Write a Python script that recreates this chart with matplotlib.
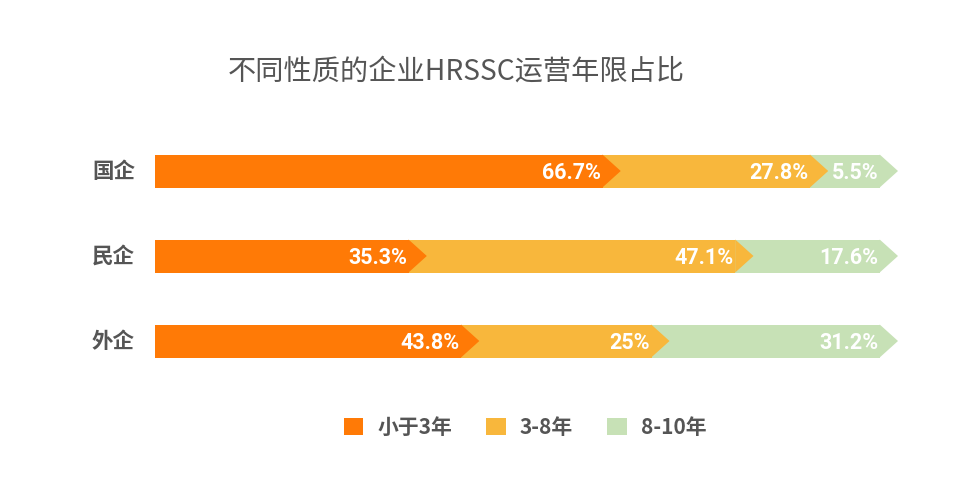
import matplotlib
matplotlib.use("Agg")
import matplotlib.pyplot as plt
from matplotlib.patches import Polygon, Patch

plt.rcParams['font.family'] = ['Noto Sans CJK SC', 'DejaVu Sans']

title = "不同性质的企业HRSSC运营年限占比"
categories = ["国企", "民企", "外企"]
series_names = ["小于3年", "3-8年", "8-10年"]
lt3 = [66.7, 35.3, 43.8]
y3_8 = [27.8, 47.1, 25.0]
y8_10 = [5.5, 17.6, 31.2]
labels = [["66.7%", "35.3%", "43.8%"],
          ["27.8%", "47.1%", "25%"],
          ["5.5%", "17.6%", "31.2%"]]
colors = ["#FF7A06", "#F8B73C", "#C7E1B6"]

W, H = 968, 478
fig = plt.figure(figsize=(W / 100, H / 100), dpi=100)
fig.patch.set_facecolor("white")

# style: each segment gets a constant extra length (room for the arrow)
pad = 5.8
n_seg = 3
total = 100 + n_seg * pad

left_px, right_px = 155, 880
row_top_px = 171 - 42.5
ax = fig.add_axes([left_px / W, 1 - (row_top_px + 255) / H,
                   (right_px - left_px) / W, 255 / H])
ax.set_xlim(0, total)
ax.set_ylim(2.5, -0.5)
ax.axis("off")

px_per_unit = (right_px - left_px) / total
bar_h = 33 / 85
tip = 18 / px_per_unit

series = [lt3, y3_8, y8_10]
ypos = list(range(len(categories)))
lefts = [0.0] * len(categories)
for k, vals in enumerate(series):
    z = 10 - k
    widths = [v + pad for v in vals]
    ax.barh(ypos, widths, left=lefts, height=bar_h, color=colors[k],
            edgecolor="none", zorder=z, clip_on=False)
    for i, w in enumerate(widths):
        x1 = lefts[i] + w
        tri = Polygon([(x1 - 0.05, i - bar_h / 2), (x1 + tip, i),
                       (x1 - 0.05, i + bar_h / 2)], closed=True,
                      facecolor=colors[k], edgecolor="none", zorder=z,
                      clip_on=False)
        ax.add_patch(tri)
        ax.text(x1 - 0.3, i + 0.02, labels[k][i], ha="right", va="center",
                color="white", fontsize=15.5, fontweight="bold",
                family=["Roboto", "DejaVu Sans"], zorder=20)
    lefts = [lefts[i] + widths[i] for i in range(len(widths))]

for i, c in enumerate(categories):
    ax.text(-20 / px_per_unit, i, c, ha="right", va="center", fontsize=15.5,
            fontweight="bold", color="#555555")

fig.text(456 / W, 1 - 72 / H, title, ha="center", va="center",
         fontsize=20.3, color="#555555")

handles = [Patch(facecolor=colors[k], edgecolor="none") for k in range(3)]
fig.legend(handles, series_names, loc="center", ncol=3, frameon=False,
           bbox_to_anchor=(525 / W, 1 - 427 / H),
           prop={"size": 15, "weight": "bold"},
           handlelength=0.95, handleheight=0.85, handletextpad=0.67,
           columnspacing=1.63, labelcolor="#555555")

fig.savefig("out.png", dpi=100, facecolor="white")
